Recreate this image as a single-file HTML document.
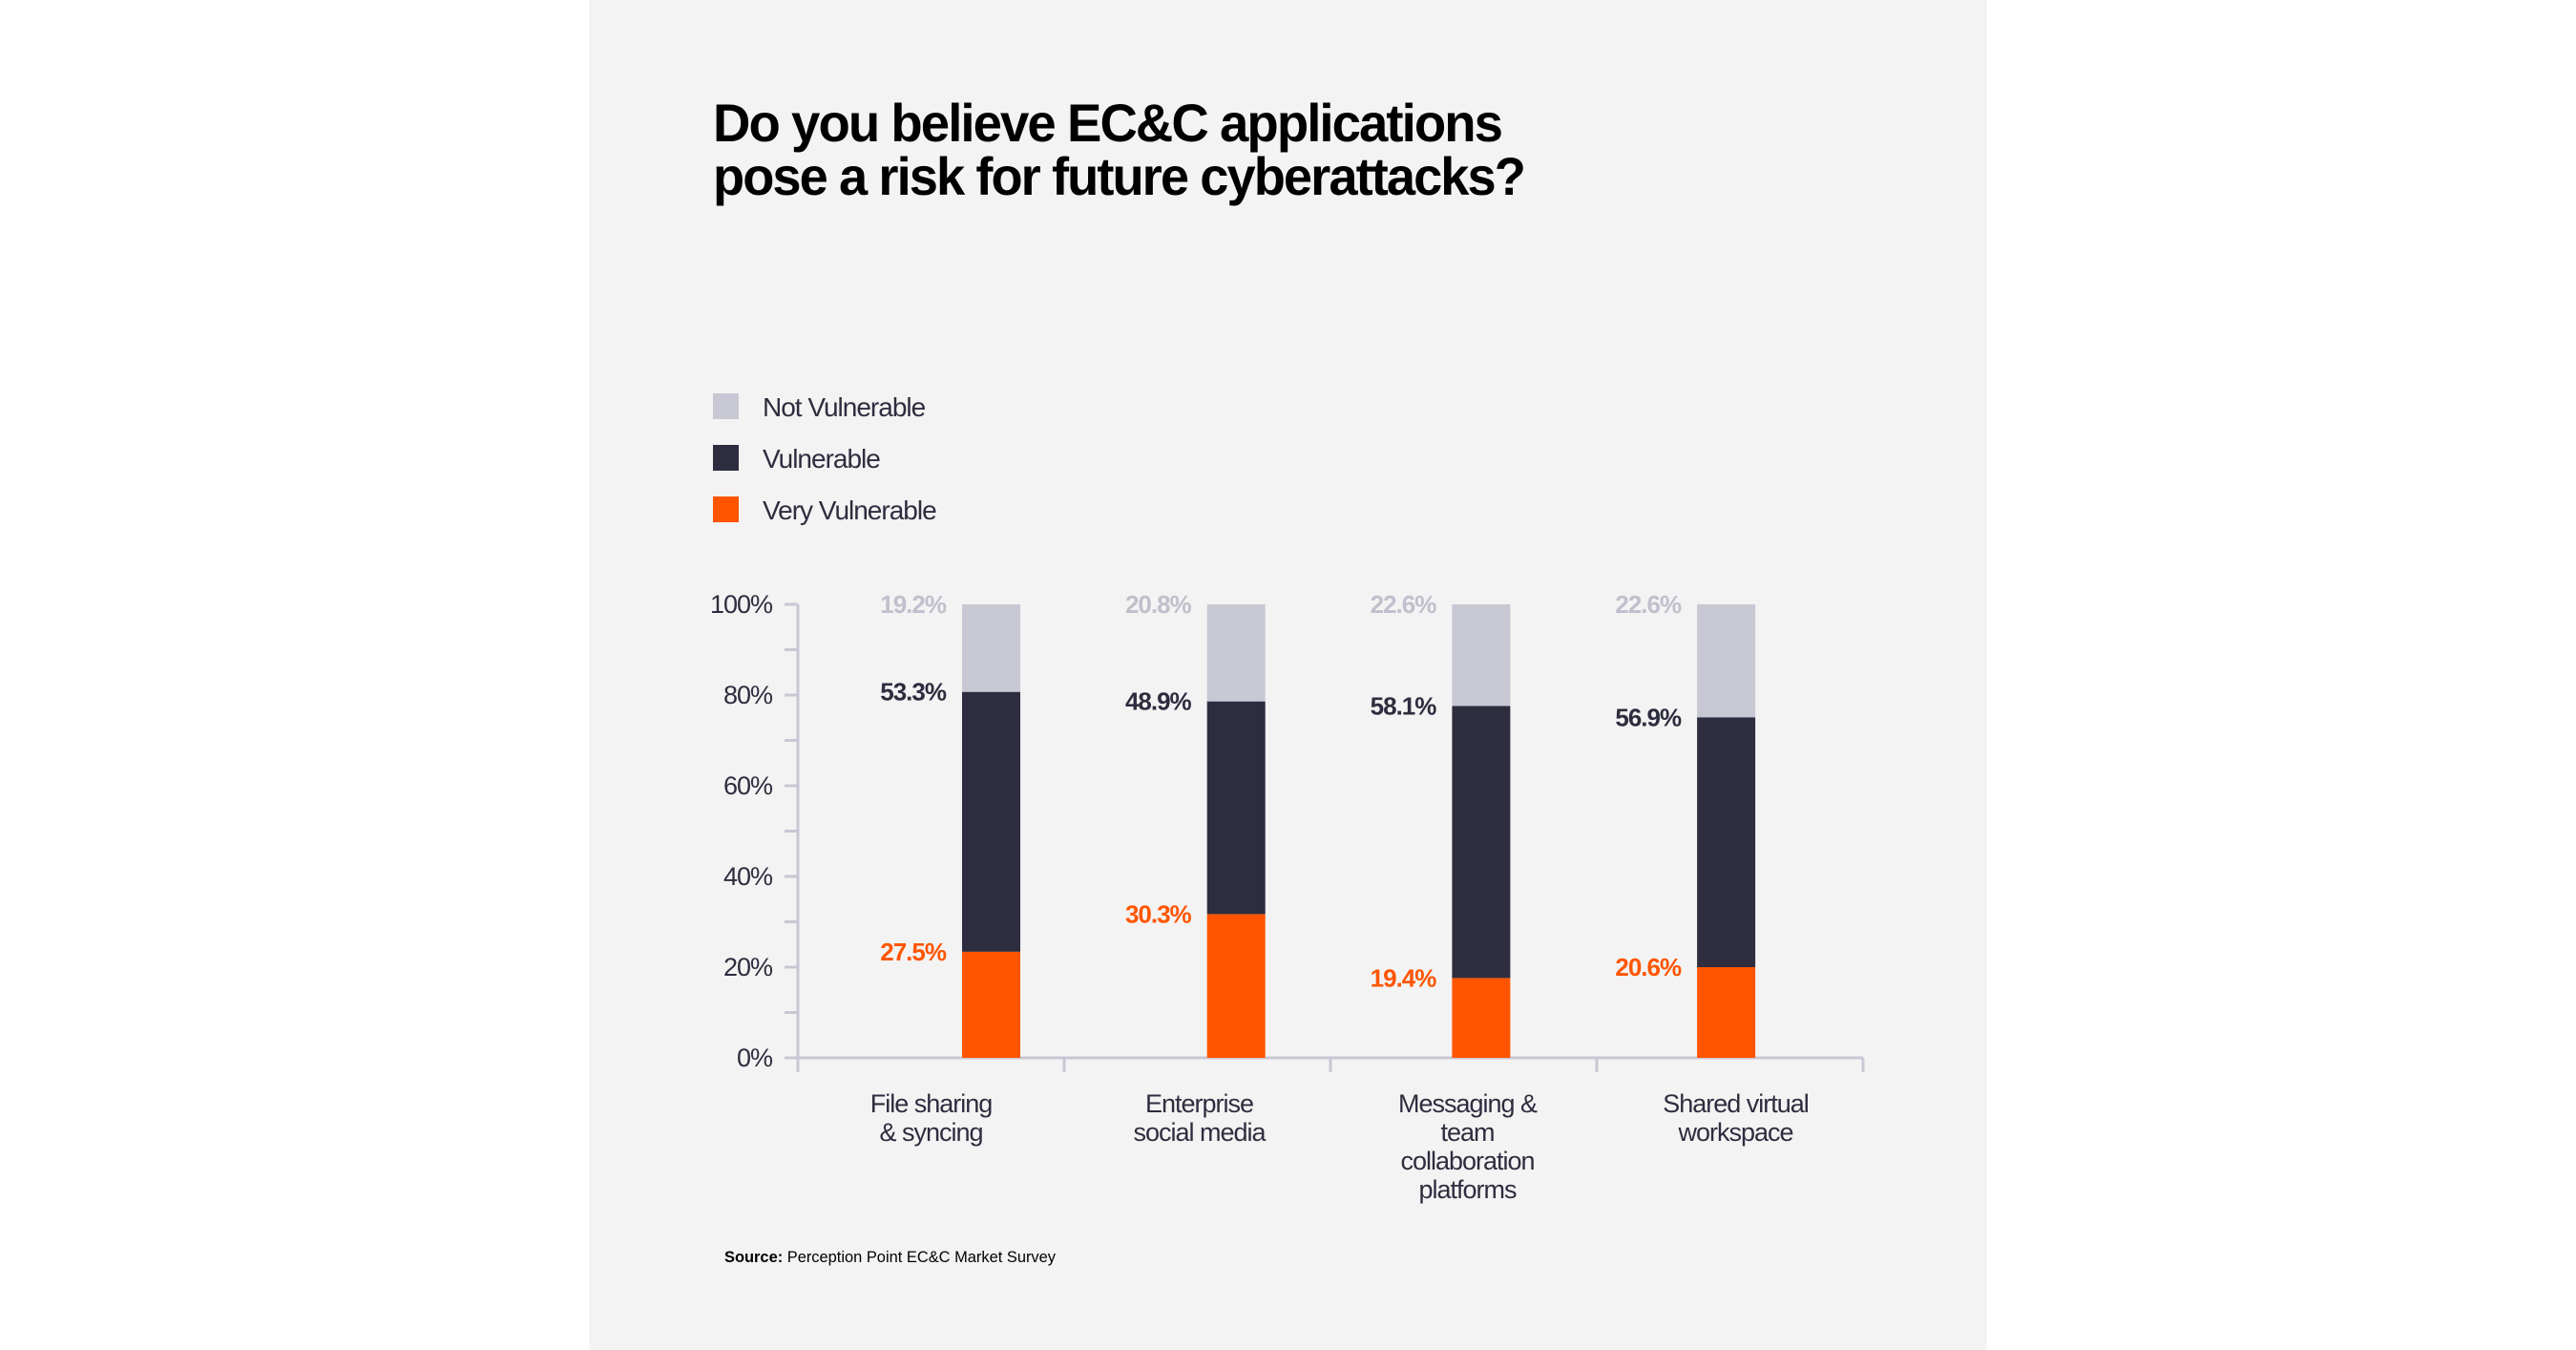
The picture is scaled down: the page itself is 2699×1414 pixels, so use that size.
<!DOCTYPE html>
<html><head><meta charset="utf-8"><style>
html,body{margin:0;padding:0;background:#fff;}
svg{display:block;font-family:"Liberation Sans",sans-serif;}
</style></head><body>
<svg id="chart" width="2699" height="1414" viewBox="0 0 2699 1414" xmlns="http://www.w3.org/2000/svg">
<rect x="617" y="0" width="1465" height="1414" fill="#f3f3f3"/>
<text font-weight="bold" font-size="56" fill="#000" letter-spacing="-2">
<tspan x="747" y="148" textLength="826" lengthAdjust="spacingAndGlyphs">Do you believe EC&amp;C applications</tspan>
<tspan x="747" y="204" textLength="850" lengthAdjust="spacingAndGlyphs">pose a risk for future cyberattacks?</tspan>
</text>
<g id="legend"></g>
<g id="axes"></g>
<g id="bars"></g>
<text x="759" y="1322" font-size="17" fill="#000" textLength="347" lengthAdjust="spacingAndGlyphs"><tspan font-weight="bold">Source:</tspan> Perception Point EC&amp;C Market Survey</text>
</svg>
<script>
const categories = [["File sharing","& syncing"],["Enterprise","social media"],["Messaging &","team","collaboration","platforms"],["Shared virtual","workspace"]];
const veryVulnerable = [23.4, 31.7, 17.6, 20.0];
const vulnerable = [57.3, 46.9, 60.0, 55.1];
const notVulnerable = [19.3, 21.4, 22.4, 24.9];
const veryLabels = ["27.5%","30.3%","19.4%","20.6%"];
const vulnLabels = ["53.3%","48.9%","58.1%","56.9%"];
const notLabels = ["19.2%","20.8%","22.6%","22.6%"];
const yTicks = [0,20,40,60,80,100];
const yTickLabels = ["0%","20%","40%","60%","80%","100%"];
const legendLabels = ["Not Vulnerable","Vulnerable","Very Vulnerable"];

const NS="http://www.w3.org/2000/svg";
const C={light:"#c8c7d4",dark:"#2d2d3f",orange:"#ff5500",lightText:"#c0bfcc"};
const X0=836, BAND=279, Y0=1108, YH=475;
const y=v=>Y0-v/100*YH;
const bx=i=>1008+i*256.7;
const BW=61;
function mk(tag,attrs,parent,txt){const e=document.createElementNS(NS,tag);for(const k in attrs)e.setAttribute(k,attrs[k]);if(txt!==undefined)e.textContent=txt;parent.appendChild(e);return e;}

const leg=document.getElementById('legend');
const legCols=[C.light,C.dark,C.orange];
legendLabels.forEach((l,i)=>{
  const r=mk('rect',{x:747,y:412+i*54,width:27,height:27,fill:legCols[i]},leg);
  
  
  const t=mk('text',{x:799,y:436+i*54,'font-size':28,fill:C.dark,'letter-spacing':'-1'},leg,l);
  
  
});

const ax=document.getElementById('axes');
const yl=mk('line',{x1:X0,y1:y(100),x2:X0,y2:Y0+15,stroke:C.light,'stroke-width':3},ax);


const xl=mk('line',{x1:822,y1:Y0,x2:X0+4*BAND,y2:Y0,stroke:C.light,'stroke-width':3},ax);


for(let v=0;v<=100;v+=10){
  const t=mk('line',{x1:822,y1:y(v),x2:X0,y2:y(v),stroke:C.light,'stroke-width':3},ax);
  
  
}
yTicks.forEach((v,i)=>{
  const t=mk('text',{x:809,y:y(v)+9,'font-size':27,fill:C.dark,'text-anchor':'end','letter-spacing':'-1'},ax,yTickLabels[i]);
  
  
});
for(let i=1;i<=categories.length;i++){
  const s=mk('line',{x1:X0+i*BAND,y1:Y0,x2:X0+i*BAND,y2:Y0+15,stroke:C.light,'stroke-width':3},ax);
  
  
}
categories.forEach((lines,i)=>{
  const t=mk('text',{'font-size':27,fill:C.dark,'text-anchor':'middle','letter-spacing':'-1'},ax);
  
  
  lines.forEach((ln,j)=>mk('tspan',{x:X0+i*BAND+139.5+i*2,y:1165+j*30},t,ln));
});

const bars=document.getElementById('bars');
categories.forEach((c,i)=>{
  const o=veryVulnerable[i], d=vulnerable[i], n=notVulnerable[i];
  const r1=mk('rect',{x:bx(i),y:y(o),width:BW,height:y(0)-y(o),fill:C.orange},bars);
  
  
  const r2=mk('rect',{x:bx(i),y:y(o+d),width:BW,height:y(o)-y(o+d),fill:C.dark},bars);
  
  
  const r3=mk('rect',{x:bx(i),y:y(o+d+n),width:BW,height:y(o+d)-y(o+d+n),fill:C.light},bars);
  
  
  const lx=bx(i)-17;
  const t1=mk('text',{x:lx,y:y(o)+9,'font-size':26,'font-weight':'bold',fill:C.orange,'text-anchor':'end','letter-spacing':'-1'},bars,veryLabels[i]);
  
  
  const t2=mk('text',{x:lx,y:y(o+d)+9,'font-size':26,'font-weight':'bold',fill:C.dark,'text-anchor':'end','letter-spacing':'-1'},bars,vulnLabels[i]);
  
  
  const t3=mk('text',{x:lx,y:y(o+d+n)+9,'font-size':26,'font-weight':'bold',fill:C.lightText,'text-anchor':'end','letter-spacing':'-1'},bars,notLabels[i]);
  
  
});
</script>
</body></html>
